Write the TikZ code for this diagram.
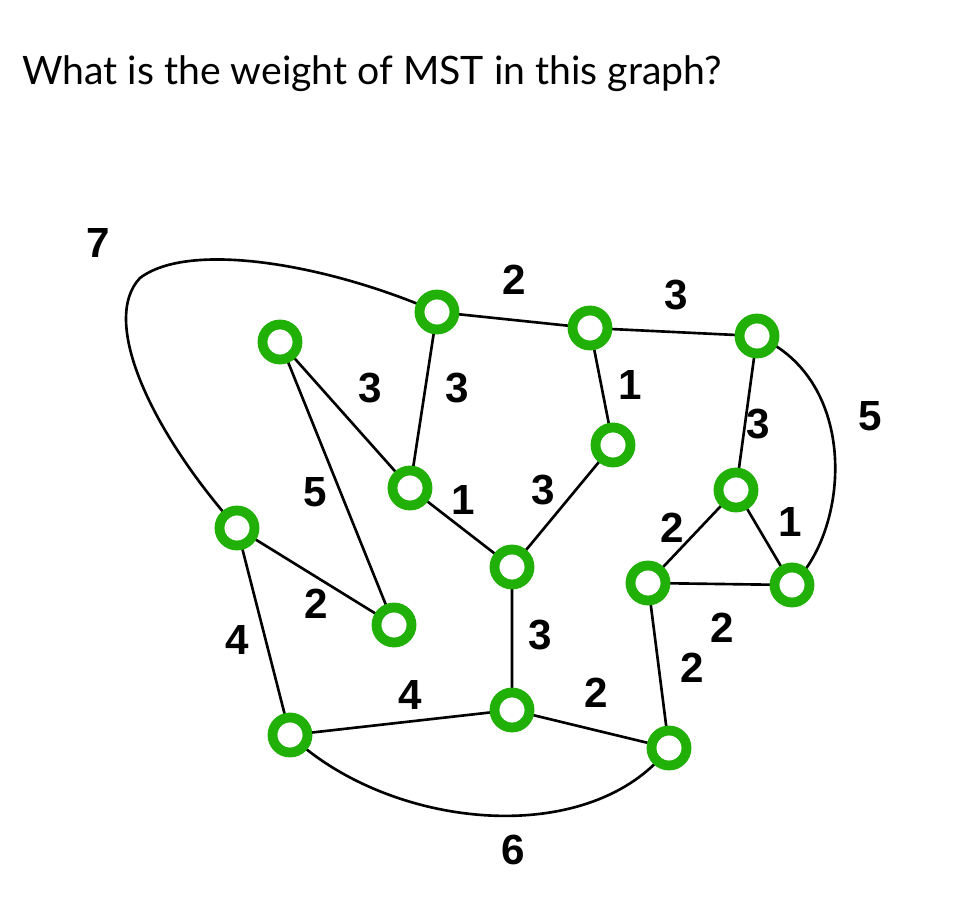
\documentclass[tikz,border=0pt]{standalone}
\usepackage{fontspec}
\setmainfont{Lato}
\newfontfamily\lab{Liberation Sans}
\begin{document}
\begin{tikzpicture}[x=0.02cm,y=-0.02cm,
  vtx/.style={circle,draw={rgb,255:red,32;green,176;blue,8},line width=5.6pt,fill=white,minimum size=0.7cm,inner sep=0pt},
  edge/.style={line width=1.5pt},
  wt/.style={font=\lab\bfseries\fontsize{24}{26}\selectfont,inner sep=0pt}]
\useasboundingbox (0,0) rectangle (977,915);
\node[anchor=base west,inner sep=0pt,font=\fontsize{22.3}{26}\selectfont] (title) at (22,85) {What is the weight of MST in this graph?};
\coordinate (A) at (280,342); \coordinate (B) at (437,312); \coordinate (C) at (590,328);
\coordinate (D) at (757,336); \coordinate (E) at (613,445); \coordinate (F) at (410,488);
\coordinate (G) at (736,490); \coordinate (H) at (237,528); \coordinate (I) at (512,567);
\coordinate (J) at (394,625); \coordinate (K) at (648,583); \coordinate (L) at (792,585);
\coordinate (M) at (512,710); \coordinate (N) at (290,735); \coordinate (O) at (669,748);
\draw[edge] (A)--(F) (A)--(J) (B)--(F) (B)--(C) (C)--(D) (C)--(E) (E)--(I) (F)--(I)
 (D)--(G) (G)--(K) (G)--(L) (K)--(L) (K)--(O) (H)--(J) (H)--(N) (I)--(M) (N)--(M) (M)--(O);
\draw[edge] (H) .. controls (150,430) and (100,320) .. (140,278) .. controls (190,240) and (330,265) .. (B);
\draw[edge] (D) .. controls (860,380) and (850,530) .. (L);
\draw[edge] (N) .. controls (390,830) and (590,850) .. (O);
\foreach \n in {A,B,C,D,E,F,G,H,I,J,K,L,M,N,O} \node[vtx] (v\n) at (\n) {};
\node[wt] (w1) at (98,243) {7};
\node[wt] (w2) at (514,280) {2};
\node[wt] (w3) at (676,295) {3};
\node[wt] (w4) at (370,388) {3};
\node[wt] (w5) at (457,388) {3};
\node[wt] (w6) at (630,385) {1};
\node[wt] (w7) at (758,424) {3};
\node[wt] (w8) at (870,416) {5};
\node[wt] (w9) at (315,492) {5};
\node[wt] (w10) at (463,500) {1};
\node[wt] (w11) at (543,490) {3};
\node[wt] (w12) at (672,528) {2};
\node[wt] (w13) at (790,522) {1};
\node[wt] (w14) at (316,604) {2};
\node[wt] (w15) at (237,640) {4};
\node[wt] (w16) at (540,635) {3};
\node[wt] (w17) at (722,628) {2};
\node[wt] (w18) at (692,668) {2};
\node[wt] (w19) at (410,695) {4};
\node[wt] (w20) at (596,693) {2};
\node[wt] (w21) at (513,850) {6};
\end{tikzpicture}
\end{document}
